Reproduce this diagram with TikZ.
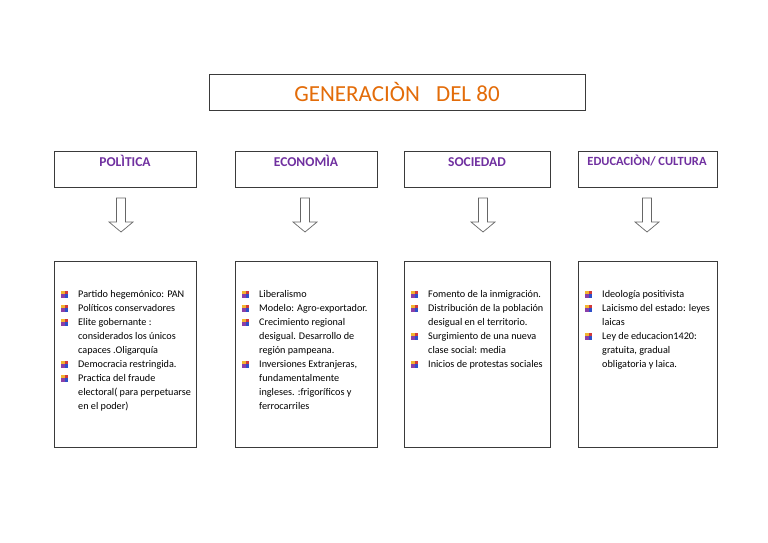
\documentclass[tikz,border=0pt]{standalone}
\usepackage{fontspec}
\setmainfont{Carlito}
\usepackage{array}
\definecolor{ttl}{HTML}{E36C09}
\definecolor{cat}{HTML}{7030A0}
\definecolor{bdr}{HTML}{3A3A3A}
\definecolor{bY}{HTML}{F2B630}
\definecolor{bR}{HTML}{D23A3A}
\definecolor{bP}{HTML}{8A3FA8}
\definecolor{bB}{HTML}{2E4FC9}
\newcommand\bic{\makebox[17pt][l]{\raisebox{-0.5pt}{\rlap{\raisebox{3.5pt}{\textcolor{bY}{\rule{3.5pt}{3.5pt}}\textcolor{bR}{\rule{3.5pt}{3.5pt}}}}\textcolor{bP}{\rule{3.5pt}{3.5pt}}\textcolor{bB}{\rule{3.5pt}{3.5pt}}}}}
\newcommand\blist[1]{\fontsize{10.2}{14}\selectfont\begin{tabular}{@{}l@{}l@{}}#1\end{tabular}}
\tikzset{
  boxx/.style={draw=bdr, line width=0.9pt, minimum height=36pt, anchor=north west, inner sep=0pt},
  cbox/.style={draw=bdr, line width=0.9pt, anchor=north west, inner sep=0pt},
  cattxt/.style={text=cat, anchor=base, font=\fontsize{13.5}{15}\selectfont\bfseries},
  dnarrow/.style={draw=black!60, line width=0.7pt, fill=white},
  lst/.style={anchor=north west, inner sep=0pt}
}
\begin{document}
\begin{tikzpicture}[x=1pt,y=-1pt]
\useasboundingbox[fill=white] (0,0) rectangle (768,543);
% title
\node[boxx, minimum width=376pt] (title) at (209,74) {};
\node[text=ttl, anchor=base, font=\fontsize{23}{27}\selectfont] (tt) at (397,101) {GENERACIÒN\hspace{11pt} DEL 80};
% category boxes
\node[boxx, minimum width=142pt] (c1) at (54,151) {};
\node[boxx, minimum width=142pt] (c2) at (235,151) {};
\node[boxx, minimum width=146pt] (c3) at (404,151) {};
\node[boxx, minimum width=139pt] (c4) at (578,151) {};
\node[cattxt] (t1) at (125,166.5) {POLÌTICA};
\node[cattxt] (t2) at (306,166.5) {ECONOMÌA};
\node[cattxt] (t3) at (477,166.5) {SOCIEDAD};
\node[cattxt, font=\fontsize{12.5}{14}\selectfont\bfseries] (t4) at (647,165.5) {EDUCACIÒN/ CULTURA};
% arrows
\foreach \cx/\nm in {121/a1,305/a2,483/a3,647/a4}{
  \draw[dnarrow] (\cx-4.5,198) -- (\cx+4.5,198) -- (\cx+4.5,222) -- (\cx+12,222) -- (\cx,232) -- (\cx-12,222) -- (\cx-4.5,222) -- cycle;
  \coordinate (\nm) at (\cx,232);
}
% content boxes
\node[cbox, minimum width=142pt, minimum height=186pt] (b1) at (54,261) {};
\node[cbox, minimum width=142pt, minimum height=186pt] (b2) at (235,261) {};
\node[cbox, minimum width=146pt, minimum height=186pt] (b3) at (404,261) {};
\node[cbox, minimum width=139pt, minimum height=186pt] (b4) at (578,261) {};
% lists
\node[lst] (l1) at (61,287) {\blist{
\bic & Partido hegemónico: PAN\\
\bic & Políticos conservadores\\
\bic & Elite gobernante :\\
 & considerados los únicos\\
 & capaces .Oligarquía\\
\bic & Democracia restringida.\\
\bic & Practica del fraude\\
 & electoral( para perpetuarse\\
 & en el poder)}};
\node[lst] (l2) at (242,287) {\blist{
\bic & Liberalismo\\
\bic & Modelo: Agro-exportador.\\
\bic & Crecimiento regional\\
 & desigual. Desarrollo de\\
 & región pampeana.\\
\bic & Inversiones Extranjeras,\\
 & fundamentalmente\\
 & ingleses. :frigoríficos y\\
 & ferrocarriles}};
\node[lst] (l3) at (411,287) {\blist{
\bic & Fomento de la inmigración.\\
\bic & Distribución de la población\\
 & desigual en el territorio.\\
\bic & Surgimiento de una nueva\\
 & clase social: media\\
\bic & Inicios de protestas sociales}};
\node[lst] (l4) at (585,287) {\blist{
\bic & Ideología positivista\\
\bic & Laicismo del estado: leyes\\
 & laicas\\
\bic & Ley de educacion1420:\\
 & gratuita, gradual\\
 & obligatoria y laica.}};
\end{tikzpicture}
\end{document}
